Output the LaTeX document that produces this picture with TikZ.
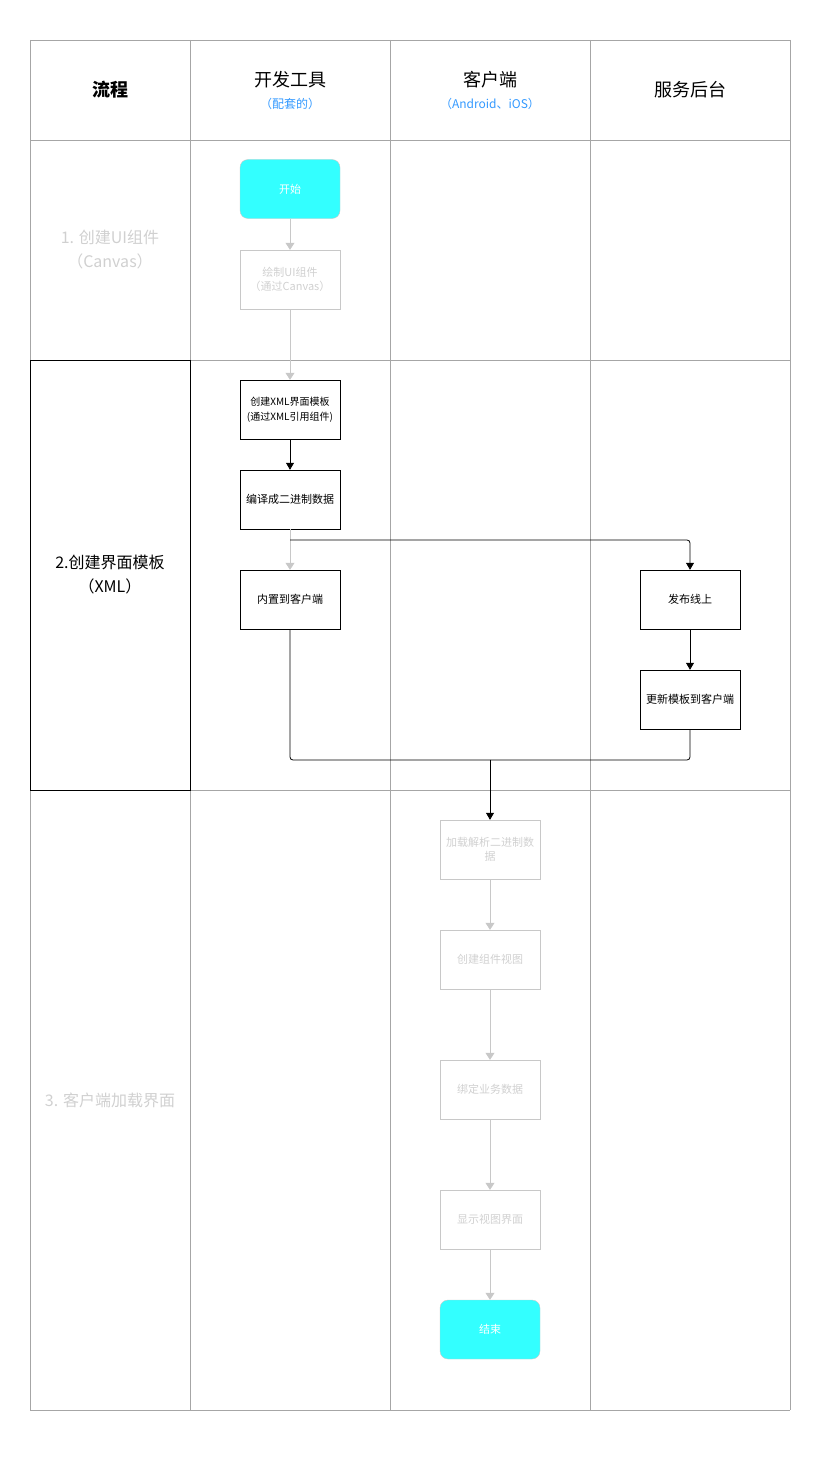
\documentclass[tikz,border=0pt]{standalone}
\usepackage{fontspec}
\setmainfont{Noto Sans CJK SC}
\usetikzlibrary{arrows.meta}
\definecolor{lg}{HTML}{C8C8C8}
\definecolor{ft}{HTML}{D0D0D0}
\definecolor{cy}{HTML}{33FFFF}
\definecolor{bl}{HTML}{3399FF}
\begin{document}
\begin{tikzpicture}[x=1pt,y=-1pt,
  grid/.style={draw=gray!70,line width=0.6pt},
  box/.style={draw,minimum width=100pt,text width=98pt,minimum height=59pt,font=\fontsize{11}{14}\selectfont,align=center,inner sep=1pt},
  fbox/.style={box,draw=lg,text=ft},
  term/.style={box,draw=lg,fill=cy,rounded corners=8pt,text=white},
  ga/.style={draw=lg,line width=0.8pt,-{Triangle[length=7pt,width=9pt]}},
  ba/.style={draw=black,line width=0.8pt,rounded corners=3pt,-{Triangle[length=7pt,width=8pt]}},
  bl/.style={draw=black,line width=0.8pt,rounded corners=3pt},
  hd/.style={font=\fontsize{18}{22}\selectfont,align=center},
  sub/.style={font=\fontsize{12}{14}\selectfont,text=bl}]
\useasboundingbox (0,0) rectangle (830,1474);
\foreach \x in {30,190,390,590,790} \draw[grid] (\x,40) -- (\x,1410);
\foreach \y in {40,140,360,790,1410} \draw[grid] (30,\y) -- (790,\y);
\draw[black,line width=0.8pt] (30,360) rectangle (190,790);
\node[hd,font=\fontsize{18}{22}\selectfont\bfseries] (h1) at (110,90) {流程};
\node[hd] (h2) at (290,80) {开发工具};
\node[sub] (s2) at (290,104) {（配套的）};
\node[hd] (h3) at (490,80) {客户端};
\node[sub] (s3) at (490,104) {（Android、iOS）};
\node[hd] (h4) at (690,90) {服务后台};
\node[font=\fontsize{16}{24}\selectfont,text=ft,align=center] (r1) at (110,250) {1. 创建UI组件\\（Canvas）};
\node[font=\fontsize{16}{24}\selectfont,align=center] (r2) at (110,575) {2.创建界面模板\\（XML）};
\node[font=\fontsize{16}{24}\selectfont,text=ft] (r3) at (110,1100) {3. 客户端加载界面};
\node[term] (start) at (290,189) {开始};
\node[fbox] (draw) at (290,279.5) {绘制UI组件\\（通过Canvas）};
\node[box,font=\fontsize{10}{15}\selectfont] (xml) at (290,409.5) {创建XML界面模板\\(通过XML引用组件)};
\node[box] (comp) at (290,499.5) {编译成二进制数据};
\node[box] (emb) at (290,599.5) {内置到客户端};
\node[box] (pub) at (690,599.5) {发布线上};
\node[box] (upd) at (690,699.5) {更新模板到客户端};
\node[fbox] (load) at (490,849.5) {加载解析二进制数\\据};
\node[fbox] (view) at (490,959.5) {创建组件视图};
\node[fbox] (bind) at (490,1089.5) {绑定业务数据};
\node[fbox] (show) at (490,1219.5) {显示视图界面};
\node[term] (end) at (490,1329.5) {结束};
\coordinate (j) at (490,760);
\draw[ga] (start) -- (draw);
\draw[ga] (draw) -- (xml);
\draw[ba] (xml) -- (comp);
\draw[ga] (comp) -- (emb);
\draw[ba] (290,540) -- (690,540) -- (pub.north);
\draw[ba] (pub) -- (upd);
\draw[bl] (emb.south) |- (j);
\draw[bl] (upd.south) |- (j);
\draw[ba] (j) -- (load.north);
\draw[ga] (load) -- (view);
\draw[ga] (view) -- (bind);
\draw[ga] (bind) -- (show);
\draw[ga] (show) -- (end);
\end{tikzpicture}
\end{document}
